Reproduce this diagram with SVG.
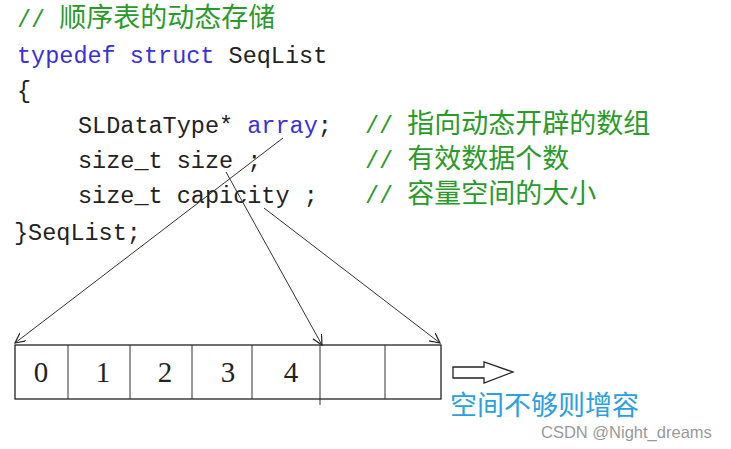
<svg xmlns="http://www.w3.org/2000/svg" width="731" height="449" viewBox="0 0 731 449">
<style>
.c{font-family:"Liberation Mono","Noto Sans CJK SC",monospace;font-size:23.5px}
.z{font-size:27px}
.g{fill:#2a9a2a}.b{fill:#3a30d8}.k{fill:#222}
.n{font-family:"Liberation Serif",serif;font-size:29px;fill:#222;text-anchor:middle}
.cell{fill:#fff;stroke:#222;stroke-width:1.3}
.ln{stroke:#333;stroke-width:1;fill:none}
</style>
<defs><marker id="a" markerWidth="12" markerHeight="12" refX="10" refY="5" orient="auto" markerUnits="userSpaceOnUse"><path d="M0,0 L10,5 L0,10" fill="none" stroke="#222" stroke-width="1.2"/></marker></defs>
<g id="code" class="c">
<text x="17" y="27" class="g">// <tspan class="z">顺序表的动态存储</tspan></text>
<text x="17" y="63"><tspan class="b">typedef struct</tspan><tspan class="k"> SeqList</tspan></text>
<text x="17" y="98" class="k">{</text>
<text x="78" y="133"><tspan class="k">SLDataType* </tspan><tspan class="b">array</tspan><tspan class="k">;</tspan></text>
<text x="365" y="133" class="g">// <tspan class="z">指向动态开辟的数组</tspan></text>
<text x="78" y="168" class="k">size_t size ;</text>
<text x="365" y="168" class="g">// <tspan class="z">有效数据个数</tspan></text>
<text x="78" y="203" class="k">size_t capicity ;</text>
<text x="365" y="203" class="g">// <tspan class="z">容量空间的大小</tspan></text>
<text x="14" y="240" class="k">}SeqList;</text>
</g>
<g id="array">
<rect class="cell" x="15" y="345" width="426" height="54"/>
<path class="ln" stroke-width="1.3" d="M68,345V399M130,345V399M192,345V399M252,345V399M320,345V405M385,345V399"/>
<text class="n" x="41" y="382">0</text>
<text class="n" x="103" y="382">1</text>
<text class="n" x="165" y="382">2</text>
<text class="n" x="228" y="382">3</text>
<text class="n" x="291" y="382">4</text>
</g>
<g id="connectors">
<line class="ln" x1="283" y1="138" x2="15" y2="343" marker-end="url(#a)"/>
<line class="ln" x1="226" y1="172" x2="322" y2="345" marker-end="url(#a)"/>
<line class="ln" x1="264" y1="208" x2="440" y2="343" marker-end="url(#a)"/>
</g>
<g id="grow">
<path d="M453,367H484V362L513,372L484,383V378H453Z" fill="#fff" stroke="#222" stroke-width="1.3"/>
<text x="450" y="415" font-family="'Noto Sans CJK SC',sans-serif" font-size="27" fill="#2aa0e0">空间不够则增容</text>
</g>
<text x="541" y="438" font-family="'Liberation Sans',sans-serif" font-size="16.5" fill="#999">CSDN @Night_dreams</text>
</svg>
